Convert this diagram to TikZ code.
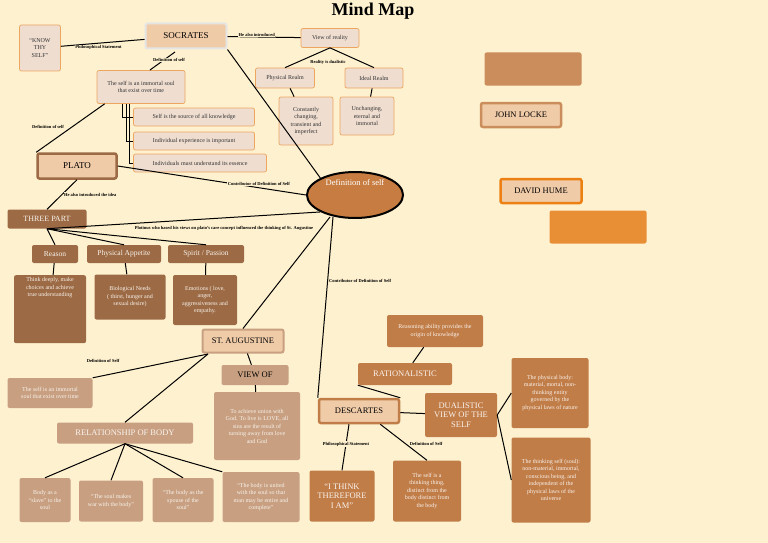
\documentclass[tikz,border=0pt]{standalone}
\usepackage{fontspec}
\setmainfont{Liberation Serif}
\usetikzlibrary{shapes.geometric}
\begin{document}
\begin{tikzpicture}[x=1pt,y=-1pt,
 lt/.style={draw=orange!60!brown!70,fill=lbox,line width=0.7pt,rounded corners=2pt,align=center,font=\fontsize{6}{7.5}\selectfont,inner sep=2pt,text=black!80},
 dk/.style={fill=dbrown,rounded corners=2pt,align=center,text=white!90!brown,font=\fontsize{6}{7.5}\selectfont,inner sep=2pt},
 tn/.style={fill=tanc,rounded corners=2pt,align=center,text=white!90!brown,font=\fontsize{6}{7.5}\selectfont,inner sep=2pt},
 or/.style={fill=oran,rounded corners=2pt,align=center,text=white!90!brown,font=\fontsize{6}{7.5}\selectfont,inner sep=2pt},
 lab/.style={font=\bfseries\fontsize{4.5}{5}\selectfont,fill=bg,inner sep=0.5pt},
 ln/.style={line width=1pt,black}]
\definecolor{bg}{HTML}{FEF1CF}
\definecolor{lbox}{HTML}{EFDDD0}
\definecolor{dbrown}{HTML}{9C6B45}
\definecolor{tanc}{HTML}{C8A081}
\definecolor{oran}{HTML}{C17D48}
\definecolor{peach}{HTML}{F0CBA8}
\fill[bg] (0,0) rectangle (768,543);
\useasboundingbox (0,0) rectangle (768,543);
\node[font=\bfseries\fontsize{18}{18}\selectfont] (title) at (373,11) {Mind Map};
% nodes
\node[lt,minimum width=41,minimum height=46] (know) at (40,48) {“KNOW\\THY\\SELF”};
\node[fill=peach,draw=black!10,line width=2pt,rounded corners=2pt,minimum width=81,minimum height=25,font=\fontsize{9}{9}\selectfont] (soc) at (186,36) {SOCRATES};
\node[lt,minimum width=58,minimum height=19] (vor) at (330,38) {View of reality};
\node[lt,minimum width=59,minimum height=20] (phr) at (285,78) {Physical Realm};
\node[lt,minimum width=58,minimum height=20] (idr) at (374,78) {Ideal Realm};
\node[lt,minimum width=54,minimum height=48] (con) at (306,121) {Constantly\\changing,\\transient and\\imperfect};
\node[lt,minimum width=54,minimum height=38] (unc) at (367,116) {Unchanging,\\eternal and\\immortal};
\node[lt,minimum width=88,minimum height=33] (sim) at (141,87) {The self is an immortal soul\\that exist over time};
\node[lt,minimum width=121,minimum height=18] (s1) at (194,117) {Self is the source of all knowledge};
\node[lt,minimum width=121,minimum height=18] (s2) at (194,141) {Individual experience is important};
\node[lt,minimum width=133,minimum height=18] (s3) at (200,163) {Individuals must understand its essence};
\node[fill=peach,draw=dbrown,line width=2.5pt,rounded corners=2pt,minimum width=79,minimum height=25,font=\fontsize{9}{9}\selectfont] (pla) at (77,166) {PLATO};
\node[ellipse,draw=black,line width=2pt,fill=oran!90!orange,minimum width=96,minimum height=46,inner sep=0] (def) at (355,195) {};
\node[text=white,font=\fontsize{8.5}{9}\selectfont] (deft) at (355,183) {Definition of self};
\node[dk,minimum width=79,minimum height=19,font=\fontsize{8}{8}\selectfont] (tp) at (47,219) {THREE PART};
\node[dk,minimum width=46,minimum height=18,font=\fontsize{7.5}{8}\selectfont] (rea) at (55,254) {Reason};
\node[dk,minimum width=74,minimum height=18,font=\fontsize{7.5}{8}\selectfont] (pap) at (124,254) {Physical Appetite};
\node[dk,minimum width=76,minimum height=18,font=\fontsize{7.5}{8}\selectfont] (spi) at (206,254) {Spirit / Passion};
\node[dk,minimum width=72,minimum height=68,anchor=north,text depth=44] (thk) at (50,275) {Think deeply, make\\choices and achieve\\true understanding};
\node[dk,minimum width=71,minimum height=45] (bio) at (130,297) {Biological Needs\\( thirst, hunger and\\sexual desire)};
\node[dk,minimum width=64,minimum height=50] (emo) at (205,300) {Emotions ( love,\\anger,\\aggressiveness and\\empathy.};
\node[fill=peach,draw=tanc,line width=2pt,rounded corners=2pt,minimum width=81,minimum height=23,font=\fontsize{8.5}{9}\selectfont] (aug) at (243,341) {ST. AUGUSTINE};
\node[tn,minimum width=67,minimum height=20,text=black,font=\fontsize{8.5}{9}\selectfont] (vof) at (255,375) {VIEW OF};
\node[tn,minimum width=86,minimum height=68] (ach) at (257,426) {To achieve union with\\God. To live is LOVE, all\\sins are the result of\\turning away from love\\and God};
\node[tn,minimum width=85,minimum height=30] (sim2) at (50,393) {The self is an immortal\\soul that exist over time};
\node[tn,minimum width=136,minimum height=21,font=\fontsize{8.5}{9}\selectfont] (rel) at (125,433) {RELATIONSHIP OF BODY};
\node[tn,minimum width=51,minimum height=44] (b1) at (45,500) {Body as a\\“slave” to the\\soul};
\node[tn,minimum width=64,minimum height=41] (b2) at (111,501) {“The soul makes\\war with the body”};
\node[tn,minimum width=61,minimum height=44] (b3) at (183,500) {“The body as the\\spouse of the\\soul”};
\node[tn,minimum width=77,minimum height=50] (b4) at (261,497) {“The body is united\\with the soul so that\\man may be entire and\\complete”};
\node[or,minimum width=96,minimum height=32] (rsn) at (435,331) {Reasoning ability provides the\\origin of knowledge};
\node[or,minimum width=94,minimum height=22,font=\fontsize{8.5}{9}\selectfont] (rat) at (405,374) {RATIONALISTIC};
\node[fill=peach,draw=oran,line width=2.5pt,rounded corners=2pt,minimum width=80,minimum height=24,font=\fontsize{8.5}{9}\selectfont] (des) at (359,411) {DESCARTES};
\node[or,minimum width=72,minimum height=44,font=\fontsize{8.5}{9.5}\selectfont] (dua) at (461,415) {DUALISTIC\\VIEW OF THE\\SELF};
\node[or,minimum width=77,minimum height=70] (pb) at (550,393) {The physical body:\\material, mortal, non-\\thinking entity\\governed by the\\physical laws of nature};
\node[or,minimum width=79,minimum height=85] (ts) at (551,480) {The thinking self (soul):\\non-material, immortal,\\conscious being, and\\independent of the\\physical laws of the\\universe};
\node[or,minimum width=65,minimum height=51,font=\fontsize{8.5}{9.5}\selectfont] (ith) at (342,496) {“I THINK\\THEREFORE\\I AM”};
\node[or,minimum width=68,minimum height=61] (sth) at (427,491) {The self is a\\thinking thing,\\distinct from the\\body distinct from\\the body};
\node[fill=oran!80!peach,rounded corners=2pt,minimum width=97,minimum height=33] (blank1) at (533,69) {};
\node[fill=peach,draw=oran!80!peach,line width=2.5pt,rounded corners=2pt,minimum width=80,minimum height=24,font=\fontsize{8.5}{9}\selectfont] (jl) at (521,115) {JOHN LOCKE};
\node[fill=peach,draw=orange!70!brown,line width=2.5pt,rounded corners=2pt,minimum width=81,minimum height=24,font=\fontsize{8.5}{9}\selectfont] (dh) at (541,191) {DAVID HUME};
\node[fill=orange!60!brown!80!peach,rounded corners=2pt,minimum width=97,minimum height=33] (blank2) at (598,227) {};
% connectors
\draw[ln] (know) -- (soc) node[lab,pos=0.45,below=1pt] {Philosophical Statement};
\draw[ln] (soc) -- (vor) node[lab,pos=0.4,above=-1pt] {He also introduced};
\draw[ln] (vor.south) -- (phr.north);
\draw[ln] (vor.south) -- (idr.north);
\node[lab] (l1) at (328,62) {Reality is dualistic};
\draw[ln] (phr) -- (con);
\draw[ln] (idr) -- (unc);
\coordinate (sa) at (175,52);
\coordinate (sb) at (150,70);
\draw[ln] (sa) -- (sb);
\node[lab] (l2) at (169,60) {Definition of self};
\draw[ln] (sim.south west) ++(26,0) |- (s1.west);
\draw[ln] (sim.south west) ++(30,0) |- (s2.west);
\draw[ln] (sim.south west) ++(33,0) |- (s3.west);
\draw[ln] (sim.south west) ++(8,0) -- (pla.north west) ;
\node[lab] (l3) at (48,127) {Definition of self};
\draw[ln] (soc.south east) -- (def.north west);
\draw[ln] (pla.east) -- (def.west) node[lab,pos=0.75,above=1pt] {Contributor of Definition of Self};
\draw[ln] (pla.south) -- (tp.north) node[lab,midway,right=1pt] {He also introduced the idea};
\draw[ln] (tp.south) -- (rea.north);
\draw[ln] (tp.south) -- (pap.north);
\draw[ln] (tp.south) -- (spi.north);
\draw[ln] (tp.south) -- (def.south west);
\node[lab] (l4) at (224,228) {Plotinus who based his views on plato's care concept influenced the thinking of St. Augustine};
\draw[ln] (rea) -- (thk);
\draw[ln] (pap) -- (bio);
\draw[ln] (spi) -- (emo);
\draw[ln] (def.south) ++(-25,-2) -- (aug.north);
\draw[ln] (def.south) ++(-22,-2) -- (des.north west);
\node[lab] (l5) at (360,281) {Contributor of Definition of Self};
\coordinate (augl) at (208,354);
\draw[ln] (augl) -- (sim2.north east);
\draw[ln] (augl) -- (rel.north);
\node[lab] (l6) at (103,361) {Definition of Self};
\draw[ln] (aug) -- (vof);
\draw[ln] (vof) -- (ach);
\draw[ln] (rel.south) -- (b1.north);
\draw[ln] (rel.south) -- (b2.north);
\draw[ln] (rel.south) -- (b3.north);
\draw[ln] (rel.south) -- (b4.north west);
\draw[ln] (rsn) -- (rat);
\draw[ln] (des.north east) -- (rat.south west);
\draw[ln] (des) -- (dua);
\draw[ln] (dua.east) -- (pb.west);
\draw[ln] (dua.east) -- (ts.west);
\draw[ln] (des.south) ++(-10,0) -- (ith.north);
\node[lab] (l7) at (346,444) {Philosophical Statement};
\draw[ln] (des.south east) ++(-20,0) -- (sth.north);
\node[lab] (l8) at (426,444) {Definition of Self};
\end{tikzpicture}
\end{document}
